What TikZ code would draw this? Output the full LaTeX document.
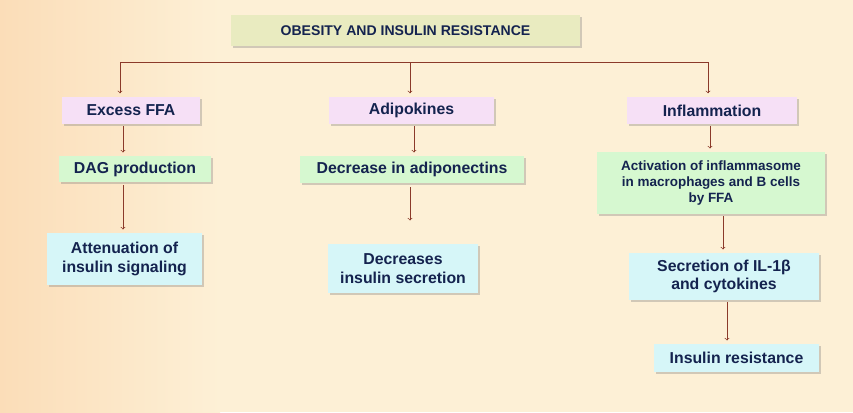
\documentclass[tikz,border=0pt]{standalone}
\usepackage{fontspec}
\setmainfont{Liberation Sans}
\usetikzlibrary{shadows}
\definecolor{navy}{HTML}{14234F}
\definecolor{arrowbrown}{HTML}{8B3A2A}
\definecolor{titlefill}{HTML}{E9EBC0}
\definecolor{pinkfill}{HTML}{F6E0F6}
\definecolor{greenfill}{HTML}{D6F8D0}
\definecolor{cyanfill}{HTML}{D6F6F8}
\definecolor{peach}{HTML}{FBDDB8}
\definecolor{cream}{HTML}{FDF0D6}
\tikzset{
  box/.style={inner sep=2pt, align=center, text=navy, font=\bfseries\fontsize{13.5}{16}\selectfont,
    drop shadow={shadow xshift=1.5pt, shadow yshift=-1.5pt, opacity=0.35}},
  headbox/.style={box, fill=pinkfill},
  midbox/.style={box, fill=greenfill},
  endbox/.style={box, fill=cyanfill},
  link/.style={->, draw=arrowbrown, semithick, shorten >=3pt, shorten <=2pt}
}
\begin{document}
\begin{tikzpicture}[x=0.03cm, y=-0.03cm]
  % background
  \fill[cream] (0,0) rectangle (853,412);
  \shade[left color=peach, right color=cream] (0,0) rectangle (220,412);
  \useasboundingbox (0,0) rectangle (853,412);

  \node[box, fill=titlefill, minimum width=349*0.03cm, minimum height=31*0.03cm, font=\bfseries\fontsize{12}{14}\selectfont] (title) at (405.5,30.5) {OBESITY AND INSULIN RESISTANCE};

  % bar
  \coordinate (barL) at (120,62);
  \coordinate (barM) at (410,62);
  \coordinate (barR) at (708,62);
  \draw[arrowbrown, semithick] (barL) -- (barR);

  \node[headbox, minimum width=138*0.03cm, minimum height=27*0.03cm] (ffa) at (131,110.5) {Excess FFA};
  \node[midbox, minimum width=152*0.03cm, minimum height=26*0.03cm] (dag) at (135,169) {DAG production};
  \node[endbox, minimum width=155*0.03cm, minimum height=52*0.03cm] (atten) at (124.5,259) {Attenuation of\\insulin signaling};

  \node[headbox, minimum width=165*0.03cm, minimum height=27*0.03cm] (adipo) at (411.5,110.5) {Adipokines};
  \node[midbox, minimum width=224*0.03cm, minimum height=27*0.03cm] (decr) at (412,169.5) {Decrease in adiponectins};
  \node[endbox, minimum width=150*0.03cm, minimum height=49*0.03cm] (secr) at (403,268.5) {Decreases\\insulin secretion};

  \node[headbox, minimum width=170*0.03cm, minimum height=27*0.03cm] (infl) at (712,110.5) {Inflammation};
  \node[midbox, minimum width=228*0.03cm, minimum height=62*0.03cm, font=\bfseries\fontsize{11.5}{14}\selectfont] (activ) at (711,183) {Activation of inflammasome\\in macrophages  and B cells\\by FFA};
  \node[endbox, minimum width=190*0.03cm, minimum height=47*0.03cm] (il) at (724,276.5) {Secretion of IL-1β\\and cytokines};
  \node[endbox, minimum width=165*0.03cm, minimum height=28*0.03cm] (ires) at (736.5,358) {Insulin resistance};

  % connectors
  \draw[link, shorten <=0pt] (barL) -- (barL |- ffa.north);
  \draw[link, shorten <=0pt] (barM) -- (barM |- adipo.north);
  \draw[link, shorten <=0pt] (barR) -- (barR |- infl.north);
  \draw[link] (123,124) -- (123,156);
  \draw[link] (123,183) -- (123,233);
  \draw[link] (414,124) -- (414,156);
  \draw[link] (410,185) -- (410,224);
  \draw[link] (710,124) -- (710,152);
  \draw[link] (723,214) -- (723,253);
  \draw[link] (727,300) -- (727,344);
\end{tikzpicture}
\end{document}
